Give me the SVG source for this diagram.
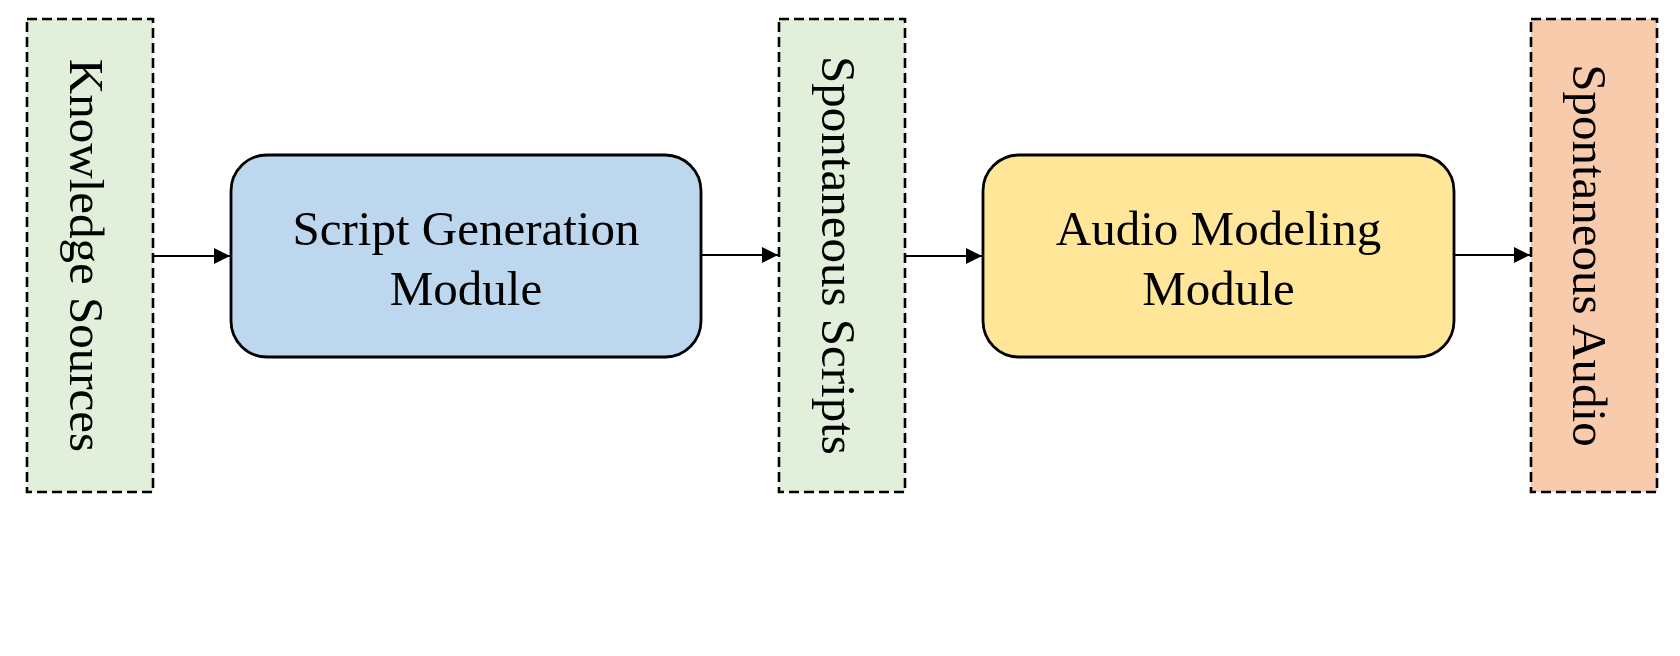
<svg xmlns="http://www.w3.org/2000/svg" width="1680" height="656" viewBox="0 0 1680 656">
  <style>
    .io { stroke: #000; stroke-width: 2.6; stroke-dasharray: 10 5; }
    .mod { stroke: #000; stroke-width: 2.8; }
    .lbl { font-family: "Liberation Serif", "Times New Roman", serif; font-size: 49px; fill: #000; }
    .conn { stroke: #000; stroke-width: 2; fill: none; }
  </style>
  <defs>
    <marker id="arr" markerUnits="userSpaceOnUse" markerWidth="18" markerHeight="18" viewBox="0 0 18 18" refX="16" refY="9" orient="auto">
      <path d="M0,1 L16,9 L0,17 Z" fill="#000"/>
    </marker>
  </defs>
  <rect width="1680" height="656" fill="#fff"/>

  <g id="knowledge-sources">
    <rect class="io" x="27" y="19" width="126" height="473" fill="#E2EFDA"/>
    <text class="lbl" x="70" y="255.5" text-anchor="middle" transform="rotate(90 70 255.5)">Knowledge Sources</text>
  </g>

  <g id="script-generation">
    <rect class="mod" x="231" y="155" width="470" height="202" rx="36" ry="36" fill="#BDD7EE"/>
    <text class="lbl" x="466" y="245" text-anchor="middle">Script Generation</text>
    <text class="lbl" x="466" y="305" text-anchor="middle">Module</text>
  </g>

  <g id="spontaneous-scripts">
    <rect class="io" x="779" y="19" width="126" height="473" fill="#E2EFDA"/>
    <text class="lbl" x="822" y="255.5" text-anchor="middle" transform="rotate(90 822 255.5)">Spontaneous Scripts</text>
  </g>

  <g id="audio-modeling">
    <rect class="mod" x="983" y="155" width="471" height="202" rx="36" ry="36" fill="#FFE699"/>
    <text class="lbl" x="1218.5" y="245" text-anchor="middle">Audio Modeling</text>
    <text class="lbl" x="1218.5" y="305" text-anchor="middle">Module</text>
  </g>

  <g id="spontaneous-audio">
    <rect class="io" x="1531" y="19" width="126" height="473" fill="#F8CBAD"/>
    <text class="lbl" x="1573" y="255.5" text-anchor="middle" transform="rotate(90 1573 255.5)">Spontaneous Audio</text>
  </g>

  <g id="connectors">
    <line class="conn" x1="153" y1="256" x2="230" y2="256" marker-end="url(#arr)"/>
    <line class="conn" x1="701" y1="255" x2="778" y2="255" marker-end="url(#arr)"/>
    <line class="conn" x1="905" y1="256" x2="982" y2="256" marker-end="url(#arr)"/>
    <line class="conn" x1="1454" y1="255" x2="1530" y2="255" marker-end="url(#arr)"/>
  </g>
</svg>
